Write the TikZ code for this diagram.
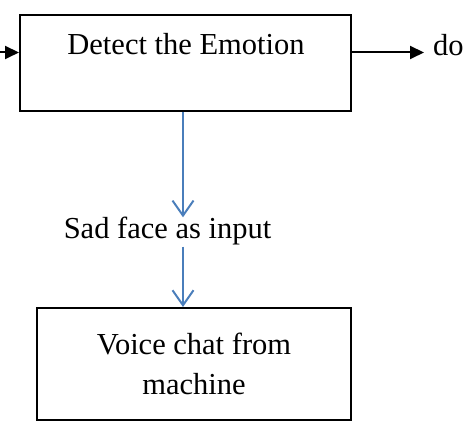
\documentclass[tikz,border=0pt]{standalone}
\usepackage{fontspec}
\setmainfont{Liberation Serif}
\usetikzlibrary{arrows.meta}
\definecolor{arrowblue}{HTML}{4A7EBB}
\begin{document}
\begin{tikzpicture}[x=1pt,y=1pt,
  box/.style={draw=black,line width=2pt,inner sep=0pt},
  txt/.style={font=\fontsize{30.5}{40}\selectfont,inner sep=0pt},
  blk/.style={line width=2pt,-{Triangle[length=14pt,width=13pt]}},
  blu/.style={draw=arrowblue,line width=2pt,-{Straight Barb[length=15pt,width=21pt,line width=2pt]}}]
\useasboundingbox (0,0) rectangle (474,422);
\node[box,minimum width=331pt,minimum height=96pt] (det) at (185.5,359) {};
\node[txt,anchor=base] (dettxt) at (186,422-55) {Detect the Emotion};
\coordinate (in) at (0,369.5);
\node[txt,anchor=base west] (do) at (433,422-56) {do};
\coordinate (ax) at (183,0);
\node[txt,anchor=base] (sad) at (167.5,422-239) {Sad face as input};
\node[box,minimum width=314pt,minimum height=112pt,txt,align=center] (voice) at (194,58) {Voice chat from\\machine};
\draw[blk] (in) -- (in -| det.west);
\draw[blk] (det.east |- in) -- (424,369.5);
\draw[blu] (det.south -| ax) -- (sad.north -| ax);
\draw[blu] ([yshift=-1pt]sad.south -| ax) -- (voice.north -| ax);
\end{tikzpicture}
\end{document}
